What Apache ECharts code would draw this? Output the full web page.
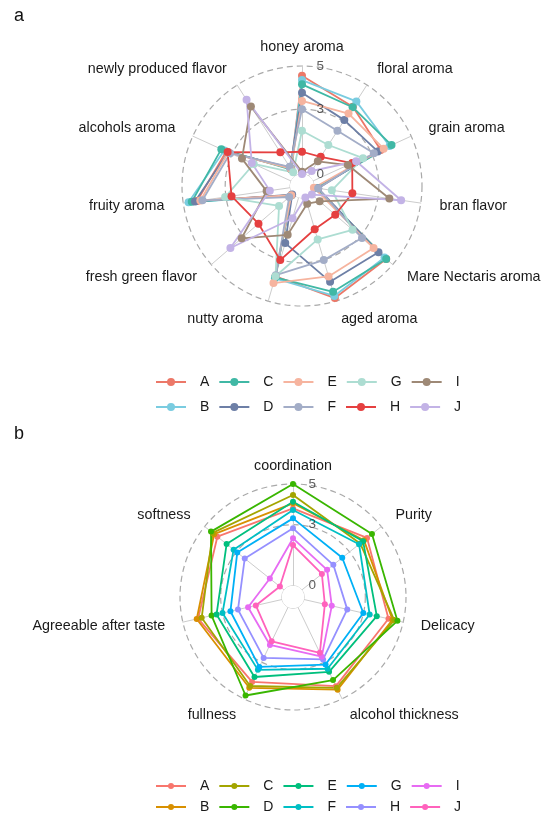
<!DOCTYPE html>
<html><head><meta charset="utf-8">
<script src="https://cdn.jsdelivr.net/npm/echarts@6/dist/echarts.min.js"></script>
<style>html,body{margin:0;padding:0;background:#fff}#c{width:550px;height:817px}</style>
</head><body><div id="c"></div>
<script>
// ---------- data ----------
const groups = ['A','B','C','D','E','F','G','H','I','J'];
const aromaAxes = ['honey aroma','floral aroma','grain aroma','bran flavor','Mare Nectaris aroma','aged aroma','nutty aroma','fresh green flavor','fruity aroma','alcohols aroma','newly produced flavor'];
const aromaA = [4.55, 3.80, 3.45, 0.10, 4.60, 4.85, 3.80, 0.10, 4.35, 3.30, 0.40];
const aromaB = [4.35, 4.10, 3.90, 0.10, 4.50, 4.75, 3.90, 0.10, 4.75, 3.40, 0.40];
const aromaC = [4.15, 3.78, 4.00, 0.10, 4.60, 4.55, 3.85, 0.10, 4.60, 3.55, 0.35];
const aromaD = [3.76, 3.07, 3.30, 0.20, 4.13, 4.06, 2.20, 0.05, 4.45, 3.20, 0.45];
const aromaE = [3.38, 3.43, 3.60, 0.00, 3.83, 3.81, 4.13, 0.10, 4.20, 3.20, 0.40];
const aromaF = [3.00, 2.48, 3.10, 0.20, 3.12, 3.02, 3.75, 0.23, 4.10, 3.10, 0.50];
const aromaG = [2.00, 1.70, 2.55, 0.84, 2.54, 2.02, 3.80, 0.85, 3.04, 1.90, 0.20];
const aromaH = [1.03, 1.05, 2.00, 1.80, 1.48, 1.53, 3.02, 2.11, 2.74, 3.23, 1.30];
const aromaI = [0.10, 0.80, 1.78, 3.53, 0.53, 0.30, 1.80, 3.14, 1.10, 2.50, 3.82];
const aromaJ = [0.00, 0.27, 2.20, 4.08, 0.05, 0.00, 1.00, 3.83, 0.95, 2.00, 4.19];
const aromaValues = [aromaA, aromaB, aromaC, aromaD, aromaE, aromaF, aromaG, aromaH, aromaI, aromaJ];

const tasteAxes = ['coordination','Purity','Delicacy','alcohol thickness','fullness','Agreeable after taste','softness'];
const tasteA = [3.80, 4.10, 4.26, 4.31, 4.08, 4.23, 4.20];
const tasteB = [4.05, 3.91, 4.46, 4.50, 4.40, 4.30, 4.40];
const tasteC = [4.46, 3.67, 4.55, 4.40, 4.30, 4.05, 4.50];
const tasteD = [5.00, 4.41, 4.71, 3.98, 4.82, 3.55, 4.60];
const tasteE = [4.13, 3.85, 3.67, 3.53, 3.81, 3.30, 3.62];
const tasteF = [3.72, 3.60, 3.31, 3.36, 3.42, 3.00, 3.18];
const tasteG = [3.31, 2.54, 2.99, 3.13, 3.26, 2.60, 2.95];
const tasteH = [2.82, 1.98, 2.18, 2.85, 2.77, 2.22, 2.48];
const tasteI = [2.33, 1.59, 1.40, 2.70, 2.06, 1.71, 0.90];
const tasteJ = [2.00, 1.26, 1.05, 2.49, 1.86, 1.32, 0.27];
const tasteValues = [tasteA, tasteB, tasteC, tasteD, tasteE, tasteF, tasteG, tasteH, tasteI, tasteJ];

const gridValues = [0, 3, 5];          // grid circles / tick labels
const scaleMin = -5 / 9, scaleMax = 5;  // centre offset like ggradar

const aromaColors = ['#EC7868','#7ACCE0','#40B8A5','#6D7FA6','#F6B49F','#A3ADC7','#ADDDD2','#E54040','#9E8976','#C3B3E6'];
const tasteColors = ['#F8766D','#D89000','#A3A500','#39B600','#00BF7D','#00BFC4','#00B0F6','#9590FF','#E76BF3','#FF62BC'];

// ---------- helpers ----------
const FONT = "'Liberation Sans', Arial, Helvetica, sans-serif";
const cw = arr => [arr[0]].concat(arr.slice(1).reverse()); // ECharts radar runs counter-clockwise
const fineSplits = 50, fineStep = (scaleMax - scaleMin) / fineSplits;
const dashedColors = [];
for (let i = 0; i <= fineSplits; i++) {
  const v = scaleMin + i * fineStep;
  dashedColors.push(gridValues.slice(1).some(g => Math.abs(g - v) < 1e-6) ? '#a9a9a9' : 'rgba(0,0,0,0)');
}
const coarseStep = 5 / 9, coarseCount = Math.round((scaleMax - scaleMin) / coarseStep);
const innerColors = [], innerAreas = [];
for (let i = 0; i <= coarseCount; i++) {
  const v = scaleMin + i * coarseStep;
  innerColors.push(Math.abs(v - gridValues[0]) < 1e-6 ? '#c4c4c4' : 'rgba(0,0,0,0)');
  innerAreas.push(i === 0 ? '#ffffff' : 'rgba(0,0,0,0)');
}

const legendIcon = r => 'path://M0,4.1L30,4.1L30,5.9L0,5.9Z M' + (15 + r) + ',5A' + r + ',' + r + ',0,1,1,' + (15 - r) + ',5A' + r + ',' + r + ',0,1,1,' + (15 + r) + ',5Z';

function radarComp(axes, center, radius, gap) {
  return {
    center: center, radius: radius, startAngle: 90, shape: 'circle', splitNumber: fineSplits,
    indicator: cw(axes).map(n => ({ name: n, min: scaleMin, max: scaleMax })),
    nameGap: gap,
    axisName: { color: '#1a1a1a', fontSize: 14.3, fontFamily: FONT, verticalAlign: 'middle', padding: [4, 0, 0, 0] },
    axisLine: { lineStyle: { color: '#cccccc', width: 1 } },
    axisTick: { show: false }, axisLabel: { show: false },
    splitLine: { lineStyle: { color: dashedColors, width: 1.2, type: [6, 4] } },
    splitArea: { show: false }
  };
}
function polarParts(center, radius, idx) {
  return {
    polar: { center: center, radius: radius },
    angleAxis: { polarIndex: idx, type: 'value', min: 0, max: 360, startAngle: 90, clockwise: true, show: false },
    radiusAxis: { polarIndex: idx, type: 'value', min: scaleMin, max: scaleMax, interval: coarseStep, z: 1,
      axisLine: { show: false }, axisTick: { show: false }, axisLabel: { show: false },
      splitLine: { show: true, lineStyle: { color: innerColors, width: 1 } },
      splitArea: { show: true, areaStyle: { color: innerAreas } } }
  };
}
function tickSeries(idx, dist) {
  return { type: 'scatter', coordinateSystem: 'polar', polarIndex: idx, silent: true, z: 5,
    symbolSize: 1, itemStyle: { color: 'rgba(0,0,0,0)' },
    data: gridValues.map(v => [v, 0]),
    label: { show: true, position: 'right', distance: dist, formatter: p => String(p.value[0]),
      fontSize: 13.5, color: '#333', fontFamily: FONT } };
}
function radarSeries(idx, values, colors, prefix, symSize) {
  return { type: 'radar', radarIndex: idx, symbol: 'circle', symbolSize: symSize, z: 2, silent: true,
    data: groups.map((g, i) => ({ name: prefix + g, value: cw(values[i]),
      itemStyle: { color: colors[i] }, lineStyle: { color: colors[i], width: 1.8 } })) };
}
function legends(top, rowGap, prefix, r) {
  const rows = [['A','C','E','G','I'], ['B','D','F','H','J']];
  return rows.map((row, k) => ({
    data: row.map(g => prefix + g), left: 156, top: top + k * rowGap, padding: 0,
    itemWidth: 30, itemHeight: 10, itemGap: 10, icon: legendIcon(r), selectedMode: false,
    formatter: n => n.replace(prefix, ''),
    textStyle: { fontSize: 14, color: '#1a1a1a', fontFamily: FONT, padding: [0, 0, 0, 9] }
  }));
}

const pa = polarParts([302, 186], 120, 0), pb = polarParts([293, 597], 113, 1);
const option = {
  animation: false,
  backgroundColor: '#fff',
  title: [
    { text: 'a', left: 9, top: 2, textStyle: { fontSize: 18, fontWeight: 'normal', color: '#111', fontFamily: FONT } },
    { text: 'b', left: 9, top: 420, textStyle: { fontSize: 18, fontWeight: 'normal', color: '#111', fontFamily: FONT } }
  ],
  radar: [radarComp(aromaAxes, [302, 186], 120, 19), radarComp(tasteAxes, [293, 597], 113, 18)],
  polar: [pa.polar, pb.polar],
  angleAxis: [pa.angleAxis, pb.angleAxis],
  radiusAxis: [pa.radiusAxis, pb.radiusAxis],
  legend: legends(375, 25, '', 4).concat(legends(779, 21, 'b:', 3)),
  series: [
    radarSeries(0, aromaValues, aromaColors, '', 8),
    radarSeries(1, tasteValues, tasteColors, 'b:', 6),
    tickSeries(0, 14), tickSeries(1, 15)
  ]
};
const chart = echarts.init(document.getElementById('c'), null, { renderer: 'canvas' });
chart.setOption(option);
</script></body></html>
